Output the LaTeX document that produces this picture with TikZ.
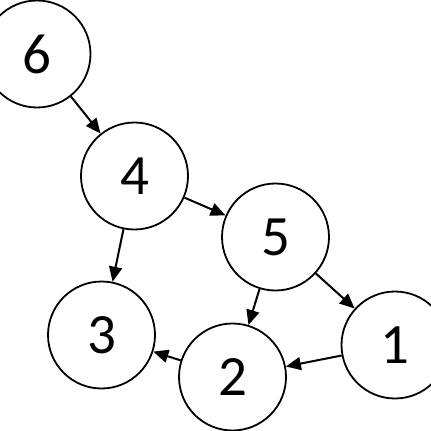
\documentclass[tikz,border=0pt]{standalone}
\usepackage{fontspec}
\setmainfont{Carlito}
\usetikzlibrary{arrows.meta}
\begin{document}
\begin{tikzpicture}[x=1pt,y=-1pt,
  vert/.style={circle,draw,line width=1.8pt,minimum size=107pt,inner sep=0pt,fill=white,font=\fontsize{57}{60}\selectfont},
  edge/.style={line width=2pt,-{Triangle[length=15pt,width=13pt]}}]
\useasboundingbox (0,0) rectangle (431,431);
\node[vert] (n6) at (37,54) {6};
\node[vert] (n4) at (134.5,176) {4};
\node[vert] (n5) at (275.5,237) {5};
\node[vert] (n3) at (101.5,335) {3};
\node[vert] (n2) at (232.5,377) {2};
\node[vert] (n1) at (395,345) {1};
\draw[edge] (n6) -- (n4);
\draw[edge] (n4) -- (n5);
\draw[edge] (n4) -- (n3);
\draw[edge] (n5) -- (n2);
\draw[edge] (n5) -- (n1);
\draw[edge] (n1) -- (n2);
\draw[edge] (n2) -- (n3);
\end{tikzpicture}
\end{document}
